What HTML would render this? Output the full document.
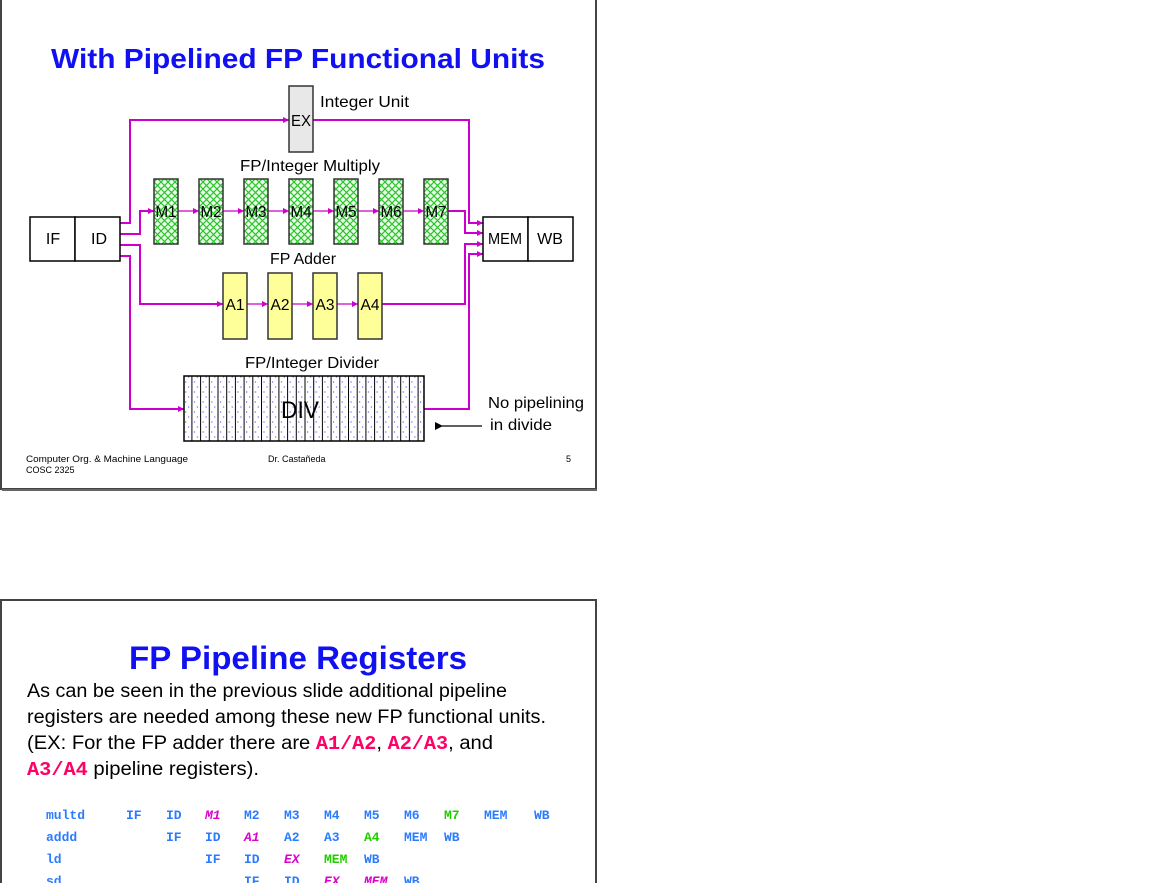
<!DOCTYPE html>
<html><head><meta charset="utf-8"><style>
html,body{margin:0;padding:0;background:#fff;width:1152px;height:883px;overflow:hidden}
svg{position:absolute;left:0;top:0}
text{font-family:"Liberation Sans",sans-serif}
.m{font-family:"Liberation Mono",monospace;font-weight:bold;font-size:13px;fill:#2b7bff}
</style></head><body>
<svg width="1152" height="883" viewBox="0 0 1152 883">
<defs>
<pattern id="x" width="7" height="7" patternUnits="userSpaceOnUse">
<rect width="7" height="7" fill="#e8ffe8"/>
<path d="M0 0L7 7M7 0L0 7" stroke="#2ec02e" stroke-width="1.2"/>
</pattern>
<pattern id="d" width="8.7" height="10" patternUnits="userSpaceOnUse">
<rect width="8.7" height="10" fill="#fff"/>
<line x1="0.5" y1="0" x2="0.5" y2="10" stroke="#000" stroke-width="1"/>
<circle cx="3" cy="2" r="0.6" fill="#4040ff"/><circle cx="6" cy="7" r="0.6" fill="#4040ff"/>
</pattern>
<marker id="a" markerWidth="6" markerHeight="6" refX="6" refY="3" orient="auto" markerUnits="userSpaceOnUse"><path d="M0 0L6 3L0 6z" fill="#cc00cc"/></marker>
<marker id="b" markerWidth="8" markerHeight="8" refX="1" refY="4" orient="auto" markerUnits="userSpaceOnUse"><path d="M8 0L0 4L8 8z" fill="#000"/></marker>
</defs>
<!-- slide 1 -->
<rect x="1" y="-2" width="595" height="491" fill="#fff" stroke="#444" stroke-width="2"/>
<line x1="2" y1="490" x2="597" y2="490" stroke="#666" stroke-width="2"/>
<text x="298" y="68" text-anchor="middle" font-size="28" font-weight="bold" fill="#1010f0" textLength="494" lengthAdjust="spacingAndGlyphs">With Pipelined FP Functional Units</text>
<g fill="none" stroke="#cc00cc" stroke-width="2">
<polyline points="120,223 130,223 130,120 289,120" marker-end="url(#a)"/>
<polyline points="313,120 469,120 469,223 483,223" marker-end="url(#a)"/>
<polyline points="120,234 140,234 140,211 154,211" marker-end="url(#a)"/>
<polyline points="120,245 140,245 140,304 223,304" marker-end="url(#a)"/>
<polyline points="120,256 130,256 130,409 184,409" marker-end="url(#a)"/>
<polyline points="448,211 465,211 465,233 483,233" marker-end="url(#a)"/>
<polyline points="382,304 465,304 465,244 483,244" marker-end="url(#a)"/>
<polyline points="424,409 469,409 469,254 483,254" marker-end="url(#a)"/>
</g>
<g stroke="#cc00cc" stroke-width="1.2" marker-end="url(#a)">
<line x1="178" y1="211" x2="199" y2="211"/><line x1="223" y1="211" x2="244" y2="211"/>
<line x1="268" y1="211" x2="289" y2="211"/><line x1="313" y1="211" x2="334" y2="211"/>
<line x1="358" y1="211" x2="379" y2="211"/><line x1="403" y1="211" x2="424" y2="211"/>
<line x1="247" y1="304" x2="268" y2="304"/><line x1="292" y1="304" x2="313" y2="304"/>
<line x1="337" y1="304" x2="358" y2="304"/>
</g>
<rect x="289" y="86" width="24" height="66" fill="#e8e8e8" stroke="#333" stroke-width="1.5"/>
<text x="301" y="126" text-anchor="middle" font-size="16" textLength="20" lengthAdjust="spacingAndGlyphs">EX</text>
<text x="320" y="107" font-size="16" textLength="89" lengthAdjust="spacingAndGlyphs">Integer Unit</text>
<text x="310" y="171" text-anchor="middle" font-size="16" textLength="140" lengthAdjust="spacingAndGlyphs">FP/Integer Multiply</text>
<g stroke="#333" stroke-width="1.5" fill="url(#x)">
<rect x="154" y="179" width="24" height="65"/><rect x="199" y="179" width="24" height="65"/>
<rect x="244" y="179" width="24" height="65"/><rect x="289" y="179" width="24" height="65"/>
<rect x="334" y="179" width="24" height="65"/><rect x="379" y="179" width="24" height="65"/>
<rect x="424" y="179" width="24" height="65"/>
</g>
<g font-size="16" text-anchor="middle">
<text x="166" y="217" textLength="21" lengthAdjust="spacingAndGlyphs">M1</text><text x="211" y="217" textLength="21" lengthAdjust="spacingAndGlyphs">M2</text><text x="256" y="217" textLength="21" lengthAdjust="spacingAndGlyphs">M3</text><text x="301" y="217" textLength="21" lengthAdjust="spacingAndGlyphs">M4</text><text x="346" y="217" textLength="21" lengthAdjust="spacingAndGlyphs">M5</text><text x="391" y="217" textLength="21" lengthAdjust="spacingAndGlyphs">M6</text><text x="436" y="217" textLength="21" lengthAdjust="spacingAndGlyphs">M7</text>
</g>
<g stroke="#000" stroke-width="1.5" fill="#fff">
<rect x="30" y="217" width="45" height="44"/><rect x="75" y="217" width="45" height="44"/>
<rect x="483" y="217" width="45" height="44"/><rect x="528" y="217" width="45" height="44"/>
</g>
<g font-size="16" text-anchor="middle">
<text x="53" y="244">IF</text><text x="99" y="244">ID</text><text x="505" y="244" textLength="34" lengthAdjust="spacingAndGlyphs">MEM</text><text x="550" y="244">WB</text>
</g>
<text x="303" y="264" text-anchor="middle" font-size="16" textLength="66" lengthAdjust="spacingAndGlyphs">FP Adder</text>
<g stroke="#333" stroke-width="1.5" fill="#ffff99">
<rect x="223" y="273" width="24" height="66"/><rect x="268" y="273" width="24" height="66"/>
<rect x="313" y="273" width="24" height="66"/><rect x="358" y="273" width="24" height="66"/>
</g>
<g font-size="16" text-anchor="middle">
<text x="235" y="310" textLength="19" lengthAdjust="spacingAndGlyphs">A1</text><text x="280" y="310" textLength="19" lengthAdjust="spacingAndGlyphs">A2</text><text x="325" y="310" textLength="19" lengthAdjust="spacingAndGlyphs">A3</text><text x="370" y="310" textLength="19" lengthAdjust="spacingAndGlyphs">A4</text>
</g>
<text x="312" y="368" text-anchor="middle" font-size="16" textLength="134" lengthAdjust="spacingAndGlyphs">FP/Integer Divider</text>
<rect x="184" y="376" width="240" height="65" fill="url(#d)" stroke="#000" stroke-width="1.5"/>
<text x="300" y="418" text-anchor="middle" font-size="24" textLength="38" lengthAdjust="spacingAndGlyphs">DIV</text>
<text x="488" y="408" font-size="16" textLength="96" lengthAdjust="spacingAndGlyphs">No pipelining</text>
<text x="490" y="430" font-size="16" textLength="62" lengthAdjust="spacingAndGlyphs">in divide</text>
<line x1="482" y1="426" x2="442" y2="426" stroke="#000" stroke-width="1.2" marker-end="url(#b)"/>
<text x="26" y="462" font-size="9" textLength="162" lengthAdjust="spacingAndGlyphs">Computer Org. &amp; Machine Language</text>
<text x="26" y="473" font-size="9">COSC 2325</text>
<text x="268" y="462" font-size="9">Dr. Castañeda</text>
<text x="566" y="462" font-size="9">5</text>
<!-- slide 2 -->
<rect x="1" y="600" width="595" height="300" fill="#fff" stroke="#444" stroke-width="2"/>
<text x="298" y="669" text-anchor="middle" font-size="32" font-weight="bold" fill="#1010f0" textLength="338" lengthAdjust="spacingAndGlyphs">FP Pipeline Registers</text>
<g font-size="19" fill="#000">
<text x="27" y="697" textLength="480" lengthAdjust="spacingAndGlyphs">As can be seen in the previous slide additional pipeline</text>
<text x="27" y="723" textLength="519" lengthAdjust="spacingAndGlyphs">registers are needed among these new FP functional units.</text>
<text x="27" y="749" textLength="466" lengthAdjust="spacingAndGlyphs">(EX: For the FP adder there are <tspan fill="#ff0066" font-family="Liberation Mono" font-weight="bold">A1/A2</tspan>, <tspan fill="#ff0066" font-family="Liberation Mono" font-weight="bold">A2/A3</tspan>, and</text>
<text x="27" y="775" textLength="232" lengthAdjust="spacingAndGlyphs"><tspan fill="#ff0066" font-family="Liberation Mono" font-weight="bold">A3/A4</tspan> pipeline registers).</text>
</g>
<g class="m">
<text x="46" y="819" class="m">multd</text><text x="126" y="819" class="m">IF</text><text x="166" y="819" class="m">ID</text><text x="205" y="819" class="m" style="fill:#dd00cc;font-style:italic">M1</text><text x="244" y="819" class="m">M2</text><text x="284" y="819" class="m">M3</text><text x="324" y="819" class="m">M4</text><text x="364" y="819" class="m">M5</text><text x="404" y="819" class="m">M6</text><text x="444" y="819" class="m" style="fill:#22cc00">M7</text><text x="484" y="819" class="m">MEM</text><text x="534" y="819" class="m">WB</text>
<text x="46" y="841" class="m">addd</text><text x="166" y="841" class="m">IF</text><text x="205" y="841" class="m">ID</text><text x="244" y="841" class="m" style="fill:#dd00cc;font-style:italic">A1</text><text x="284" y="841" class="m">A2</text><text x="324" y="841" class="m">A3</text><text x="364" y="841" class="m" style="fill:#22cc00">A4</text><text x="404" y="841" class="m">MEM</text><text x="444" y="841" class="m">WB</text>
<text x="46" y="863" class="m">ld</text><text x="205" y="863" class="m">IF</text><text x="244" y="863" class="m">ID</text><text x="284" y="863" class="m" style="fill:#dd00cc;font-style:italic">EX</text><text x="324" y="863" class="m" style="fill:#22cc00">MEM</text><text x="364" y="863" class="m">WB</text>
<text x="46" y="885" class="m">sd</text><text x="244" y="885" class="m">IF</text><text x="284" y="885" class="m">ID</text><text x="324" y="885" class="m" style="fill:#dd00cc;font-style:italic">EX</text><text x="364" y="885" class="m" style="fill:#dd00cc;font-style:italic">MEM</text><text x="404" y="885" class="m">WB</text>
</g>
</svg>
</body></html>
